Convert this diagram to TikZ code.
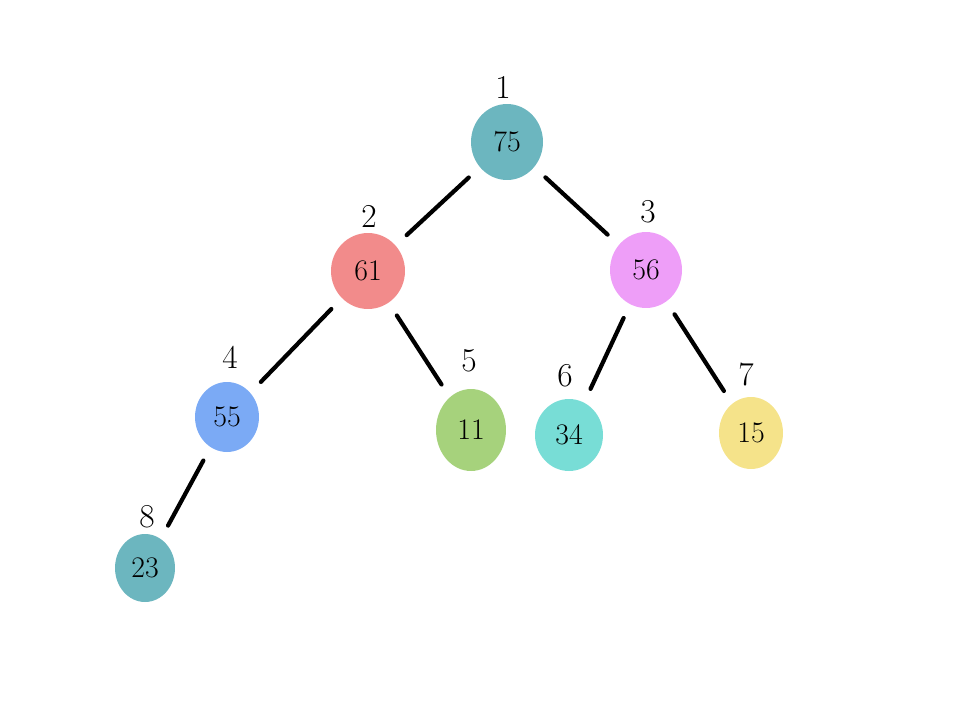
\documentclass[tikz,border=0pt]{standalone}
\usetikzlibrary{shapes.geometric}
\definecolor{cA}{HTML}{6CB6BF}
\definecolor{cB}{HTML}{F28B8B}
\definecolor{cC}{HTML}{EE9EF8}
\definecolor{cD}{HTML}{7BAAF5}
\definecolor{cE}{HTML}{A6D27C}
\definecolor{cF}{HTML}{78DDD6}
\definecolor{cG}{HTML}{F5E38A}
\tikzset{nd/.style={ellipse,inner sep=0pt,font=\fontsize{17}{20}\selectfont},
 lbl/.style={font=\fontsize{19}{22}\selectfont},
 edg/.style={line width=2.4pt,line cap=round,shorten >=0.3cm,shorten <=0.3cm}}
\begin{document}
\begin{tikzpicture}[x=0.02cm,y=-0.02cm]
\useasboundingbox (0,0) rectangle (970,727);
\node[nd,fill=cA,minimum width=1.44cm,minimum height=1.52cm] (n1) at (507,142) {75};
\node[nd,fill=cB,minimum width=1.48cm,minimum height=1.52cm] (n2) at (368,271) {61};
\node[nd,fill=cC,minimum width=1.44cm,minimum height=1.52cm] (n3) at (646,270) {56};
\node[nd,fill=cD,minimum width=1.28cm,minimum height=1.40cm] (n4) at (227,417) {55};
\node[nd,fill=cE,minimum width=1.40cm,minimum height=1.64cm] (n5) at (471,430) {11};
\node[nd,fill=cF,minimum width=1.36cm,minimum height=1.44cm] (n6) at (569,435) {34};
\node[nd,fill=cG,minimum width=1.28cm,minimum height=1.44cm] (n7) at (751,433) {15};
\node[nd,fill=cA,minimum width=1.20cm,minimum height=1.36cm] (n8) at (145,568) {23};
\node[lbl] (l1) at (503,87) {1};
\node[lbl] (l2) at (369,216) {2};
\node[lbl] (l3) at (648,212) {3};
\node[lbl] (l4) at (230,357) {4};
\node[lbl] (l5) at (469,361) {5};
\node[lbl] (l6) at (565,376) {6};
\node[lbl] (l7) at (746,374) {7};
\node[lbl] (l8) at (147,517) {8};
\draw[edg] (n1) -- (n2);
\draw[edg] (n1) -- (n3);
\draw[edg] (n2) -- (n4);
\draw[edg] (n2) -- (n5);
\draw[edg] (n3) -- (n6);
\draw[edg] (n3) -- (n7);
\draw[edg] (n4) -- (n8);
\end{tikzpicture}
\end{document}
